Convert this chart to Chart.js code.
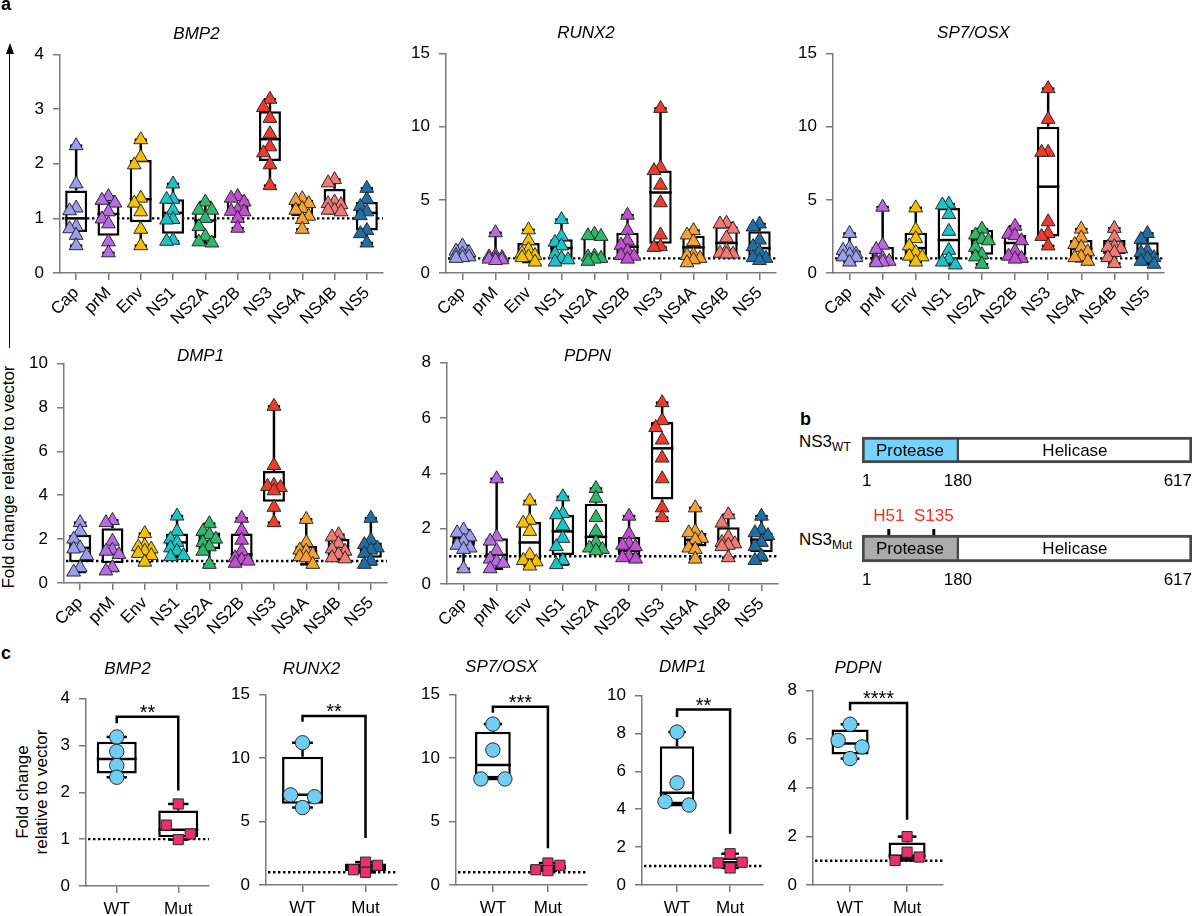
<!DOCTYPE html>
<html><head><meta charset="utf-8">
<script src="https://cdn.jsdelivr.net/npm/chart.js@4.4.1/dist/chart.umd.min.js"></script>
<style>
html,body{margin:0;padding:0;background:#fff;}
#root{position:relative;width:1200px;height:916px;overflow:hidden;font-family:'Liberation Sans',Arial,Helvetica,sans-serif;color:#000;}
canvas{position:absolute;}
.lbl{position:absolute;white-space:nowrap;color:#000;}
.lbl sub{font-size:12px;vertical-align:-4px;line-height:0;}
</style></head>
<body><div id="root">
<div class="lbl" style="left:1px;top:-5px;font-size:18px;line-height:18px;font-weight:bold;">a</div>
<div class="lbl" style="left:800px;top:410px;font-size:18px;line-height:18px;font-weight:bold;">b</div>
<div class="lbl" style="left:1px;top:644px;font-size:18px;line-height:18px;font-weight:bold;">c</div>
<div style="position:absolute;left:8.75px;top:52px;width:1.5px;height:296px;background:#000;"></div>
<div style="position:absolute;left:5.5px;top:43px;width:0;height:0;border-left:4px solid transparent;border-right:4px solid transparent;border-bottom:11px solid #000;"></div>
<div class="lbl" style="left:-111px;top:467px;width:240px;height:20px;line-height:20px;font-size:17px;text-align:center;transform:rotate(-90deg);">Fold change relative to vector</div>
<div class="lbl" style="left:-68px;top:773px;width:200px;height:38px;line-height:19px;font-size:17px;text-align:center;transform:rotate(-90deg);white-space:normal;">Fold change<br>relative to vector</div>
<div class="lbl" style="left:799px;top:432px;font-size:17px;line-height:20px;">NS3<sub>WT</sub></div>
<div class="lbl" style="left:799px;top:530px;font-size:17px;line-height:20px;">NS3<sub>Mut</sub></div>
</div>
<script>
// ---------------- DATA ----------------
const categories = ['Cap','prM','Env','NS1','NS2A','NS2B','NS3','NS4A','NS4B','NS5'];
const categoryColors = ['#9d9cf0','#b66ae4','#f6c200','#19c5c8','#2db86a','#c24fd3','#ef3b2e','#f7a132','#f37a74','#1e6fa8'];
const genes = ['BMP2','RUNX2','SP7/OSX','DMP1','PDPN'];
const yMaxA = [4,15,15,10,8];
const yStepA = [1,5,5,2,2];

// points per category (fold change), panel a
const bmp2Points = [
 [2.33,1.63,1.19,1.14,0.85,0.81,0.69,0.50],
 [1.40,1.33,1.28,1.12,0.99,0.90,0.57,0.37],
 [2.44,2.12,1.98,1.37,1.28,1.12,0.80,0.50],
 [1.63,1.35,1.35,1.15,0.98,0.97,0.60,0.58],
 [1.30,1.15,1.15,1.00,0.85,0.67,0.57,0.55],
 [1.40,1.37,1.30,1.15,1.13,1.12,1.00,0.82],
 [3.18,3.03,2.83,2.55,2.31,2.20,1.98,1.60],
 [1.36,1.33,1.27,1.18,1.15,1.04,0.98,0.80],
 [1.71,1.65,1.30,1.27,1.25,1.15,1.15,1.12],
 [1.55,1.35,1.22,1.12,1.05,0.78,0.72,0.55]];
// [q1, median, q3]
const bmp2Boxes = [[0.75,1.00,1.51],[0.68,1.08,1.31],[0.93,1.35,2.07],[0.72,1.10,1.35],[0.63,0.96,1.14],
 [1.10,1.14,1.36],[2.05,2.45,2.96],[1.04,1.24,1.34],[1.18,1.27,1.54],[0.78,1.10,1.30]];

const runx2Points = [
 [1.85,1.50,1.40,1.30,1.20,1.10,1.05,1.00],
 [2.75,1.20,1.10,1.05,1.00,0.95,0.90,0.85],
 [2.95,2.20,1.60,1.35,1.20,1.10,1.05,0.75],
 [3.65,2.50,2.10,1.85,1.30,1.00,0.90,0.75],
 [2.65,2.55,2.50,1.15,1.10,1.00,0.95,0.80],
 [3.95,2.90,2.20,1.90,1.50,1.20,1.15,0.95],
 [11.25,7.20,7.00,6.00,4.80,2.60,1.80,1.75],
 [2.90,2.60,2.15,1.25,1.20,1.00,0.90,0.70],
 [3.40,3.35,3.00,2.40,1.55,1.35,1.30,1.30],
 [3.35,3.15,2.25,1.80,1.45,1.05,1.00,0.85]];
const runx2Boxes = [[1.05,1.30,1.45],[0.95,1.00,1.15],[1.05,1.35,2.05],[1.00,1.70,2.30],[0.95,1.10,2.50],
 [1.30,1.80,2.75],[2.00,5.50,7.00],[1.00,1.75,2.55],[1.35,2.05,3.20],[1.05,1.70,2.85]];

const sp7Points = [
 [2.70,1.70,1.55,1.30,1.25,1.10,1.05,0.75],
 [4.50,1.90,1.60,1.00,0.85,0.80,0.75,0.70],
 [4.45,2.95,2.35,1.85,1.40,1.15,1.10,0.75],
 [4.70,4.65,4.00,2.85,1.55,0.95,0.75,0.55],
 [3.00,2.60,2.30,2.20,1.75,1.25,1.10,0.60],
 [3.20,2.65,2.55,2.20,1.50,1.15,1.00,0.95],
 [12.60,10.50,8.25,8.25,3.50,2.70,2.50,1.85],
 [3.00,2.40,1.95,1.75,1.45,1.10,1.05,0.80],
 [3.05,2.45,1.80,1.75,1.65,1.40,1.05,0.65],
 [2.70,2.30,1.50,1.40,1.05,1.00,0.80,0.60]];
const sp7Boxes = [[1.05,1.25,1.55],[0.75,1.00,1.80],[1.20,1.70,2.75],[0.90,2.25,4.45],[1.25,2.25,2.95],
 [1.20,2.05,2.60],[2.50,5.90,10.00],[1.10,1.65,2.25],[1.30,1.60,2.25],[0.75,1.30,2.10]];

const dmp1Points = [
 [2.75,2.35,2.00,1.60,1.55,1.25,0.70,0.50],
 [2.85,2.75,1.90,1.50,1.45,1.30,0.70,0.55],
 [2.25,1.70,1.65,1.55,1.45,1.35,1.25,0.95],
 [3.05,2.35,2.00,1.85,1.60,1.45,1.25,1.20],
 [2.70,2.35,2.20,2.00,1.85,1.65,1.45,0.85],
 [2.95,2.40,1.95,1.45,1.15,1.05,1.00,0.90],
 [8.05,5.35,4.45,4.40,4.35,4.20,3.45,2.75],
 [2.90,1.85,1.50,1.45,1.30,1.20,1.15,0.85],
 [2.20,2.10,1.80,1.55,1.45,1.30,1.15,1.10],
 [2.95,1.95,1.75,1.60,1.50,1.35,1.00,0.85]];
const dmp1Boxes = [[0.95,1.60,2.20],[0.90,1.35,2.50],[1.15,1.45,1.62],[1.40,1.85,2.25],[1.55,1.90,2.30],
 [1.00,1.30,2.25],[3.70,4.35,5.10],[1.20,1.40,1.70],[1.20,1.50,2.00],[1.15,1.50,1.85]];

const pdpnPoints = [
 [1.95,1.85,1.70,1.55,1.40,1.30,1.25,0.55],
 [3.80,1.70,1.55,1.20,0.90,0.80,0.75,0.55],
 [3.00,2.30,2.20,1.90,1.05,0.85,0.80,0.65],
 [3.15,2.55,2.50,2.10,1.65,1.35,0.85,0.70],
 [3.45,3.10,2.40,1.90,1.50,1.30,1.25,1.20],
 [2.45,1.80,1.45,1.40,1.35,1.00,0.95,0.90],
 [6.55,5.90,5.65,5.20,4.55,3.80,2.75,2.40],
 [2.75,1.90,1.85,1.65,1.60,1.30,1.25,0.90],
 [2.50,2.20,1.70,1.50,1.45,1.40,1.35,0.95],
 [2.45,1.95,1.85,1.75,1.50,1.35,1.00,0.85]];
const pdpnBoxes = [[1.35,1.50,1.70],[0.80,1.05,1.65],[0.85,1.50,2.25],[1.05,1.90,2.50],[1.25,1.70,2.90],
 [1.05,1.20,1.70],[3.05,4.90,5.85],[1.35,1.60,1.85],[1.40,1.45,2.05],[1.15,1.60,1.85]];

// panel b
const bTicks = [1,180,617];
const bDomains = ['Protease','Helicase'];
const bDomainStart = [1,180];
const bDomainEnd = [180,617];
const bWTColors = ['#74d3fa','#ffffff'];
const bMutColors = ['#ababab','#ffffff'];
const mutPos = [51,135];
const mutLabels = ['H51','S135'];

// panel c
const groupsC = ['WT','Mut'];
const groupColorsC = ['#70cdf3','#ee2f6f'];
const cBmp2 = [[3.18,2.87,2.57,2.32],[1.75,1.30,1.11,0.99]];
const cRunx2 = [[11.2,7.1,6.95,6.1],[1.8,1.55,1.2,1.0]];
const cSp7 = [[12.67,10.63,8.35,8.35],[1.73,1.55,1.2,1.13]];
const cDmp1 = [[8.07,5.39,4.4,4.22],[1.65,1.2,1.16,0.9]];
const cPdpn = [[6.61,5.95,5.68,5.2],[1.99,1.35,1.15,1.01]];
const cBmp2Boxes = [[2.40,2.71,3.08],[1.04,1.20,1.61]];
const cRunx2Boxes = [[6.4,7.1,10.1],[1.1,1.4,1.7]];
const cSp7Boxes = [[8.4,9.45,12.07],[1.15,1.35,1.6]];
const cDmp1Boxes = [[4.27,4.87,7.32],[1.0,1.2,1.45]];
const cPdpnBoxes = [[5.37,5.82,6.4],[1.05,1.2,1.75]];
// bracket: [WT leg end, top, Mut leg end]
const cBrackets = [[3.47,3.61,2.04],[12.85,13.3,3.7],[13.56,14.03,2.9],[8.86,9.26,2.7],[7.18,7.49,2.68]];
const cStars = ['**','**','***','**','****'];
const referenceLevel = 1;

// ---------------- RENDERING ----------------
const FONT = "'Liberation Sans', Arial, Helvetica, sans-serif";
Chart.defaults.font.family = FONT;
Chart.defaults.font.size = 17;
Chart.defaults.color = '#000';
Chart.defaults.animation = false;
Chart.defaults.events = [];
Chart.defaults.plugins.legend.display = false;
Chart.defaults.plugins.tooltip.enabled = false;
const root = document.getElementById('root');
const AXIS = '#7a7a7a';

function makeCanvas(left, top, w, h) {
  const c = document.createElement('canvas');
  c.width = w; c.height = h;
  c.style.left = left + 'px'; c.style.top = top + 'px';
  c.style.width = w + 'px'; c.style.height = h + 'px';
  root.appendChild(c);
  return c;
}

function swarmOffsets(vals, pxPerUnit, s, vgap, symm) {
  const order = vals.map((v, i) => i).sort((a, b) => vals[b] - vals[a]);
  const cands = symm ? [0, s, -s] : [0, -s, s];
  const placed = [];
  const col = new Array(vals.length).fill(0);
  for (const i of order) {
    const py = vals[i] * pxPerUnit;
    let best = 0, bestD = -1;
    for (const c of cands) {
      let d = Infinity;
      for (const p of placed) if (p.c === c) d = Math.min(d, Math.abs(p.py - py));
      if (d >= vgap) { best = c; break; }
      if (d > bestD) { bestD = d; best = c; }
    }
    col[i] = best; placed.push({ i, c: best, py });
  }
  if (symm) {
    const off = col.slice();
    placed.forEach(p => {
      if (p.c !== s) return;
      const partner = placed.find(q => q.c === 0 && Math.abs(q.py - p.py) < vgap);
      const other = placed.find(q => q.c === -s && Math.abs(q.py - p.py) < vgap * 1.5);
      if (partner && !other) { off[partner.i] = -s; }
    });
    return off;
  }
  return col;
}

const boxExtras = {
  id: 'boxExtras',
  beforeDatasetsDraw(chart, args, o) {
    const { ctx, chartArea: a, scales: { x, y } } = chart;
    ctx.save();
    const py = y.getPixelForValue(o.ref);
    ctx.setLineDash([2.4, 2.6]);
    ctx.lineWidth = 2.4; ctx.strokeStyle = '#000';
    ctx.beginPath(); ctx.moveTo(a.left + 2, py); ctx.lineTo(a.right, py); ctx.stroke();
    ctx.setLineDash([]);
    ctx.lineWidth = o.lw; ctx.lineCap = 'butt';
    const line = (x1, y1, x2, y2) => { ctx.beginPath(); ctx.moveTo(x1, y1); ctx.lineTo(x2, y2); ctx.stroke(); };
    o.boxes.forEach((b, i) => {
      const pts = o.points[i];
      const lo = Math.min(...pts), hi = Math.max(...pts);
      const cx = x.getPixelForValue(i);
      const cw = x.getPixelForValue(i + o.capW / 2) - cx;
      const yq1 = y.getPixelForValue(b[0]), yq3 = y.getPixelForValue(b[2]);
      const ylo = y.getPixelForValue(lo), yhi = y.getPixelForValue(hi);
      line(cx, yq3, cx, yhi); line(cx - cw, yhi, cx + cw, yhi);
      line(cx, yq1, cx, ylo); line(cx - cw, ylo, cx + cw, ylo);
    });
    ctx.restore();
  },
  afterDatasetDraw(chart, args, o) {
    if (args.meta.type !== 'bar') return;
    const { ctx, scales: { x, y } } = chart;
    ctx.save();
    ctx.lineWidth = o.lw; ctx.strokeStyle = '#000'; ctx.lineCap = 'butt';
    o.boxes.forEach((b, i) => {
      const cx = x.getPixelForValue(i);
      const hw = x.getPixelForValue(i + o.boxW / 2) - cx;
      const ym = y.getPixelForValue(b[1]);
      ctx.beginPath(); ctx.moveTo(cx - hw, ym); ctx.lineTo(cx + hw, ym); ctx.stroke();
    });
    ctx.restore();
  },
  afterDatasetsDraw(chart, args, o) {
    if (!o.bracket) return;
    const { ctx, scales: { x, y } } = chart;
    const b = o.bracket;
    const x0 = x.getPixelForValue(0), x1 = x.getPixelForValue(1);
    ctx.save();
    ctx.lineWidth = 2.5; ctx.strokeStyle = '#000'; ctx.lineJoin = 'miter';
    ctx.beginPath();
    ctx.moveTo(x0, y.getPixelForValue(b[0]));
    ctx.lineTo(x0, y.getPixelForValue(b[1]));
    ctx.lineTo(x1, y.getPixelForValue(b[1]));
    ctx.lineTo(x1, y.getPixelForValue(b[2]));
    ctx.stroke();
    ctx.fillStyle = '#000'; ctx.font = '20px ' + FONT;
    ctx.textAlign = 'center'; ctx.textBaseline = 'alphabetic';
    ctx.fillText(o.stars, (x0 + x1) / 2, y.getPixelForValue(b[1]) + 2);
    ctx.restore();
  }
};

function boxChart(g, title, cats, colors, shapes, pts, boxes, conf) {
  const YW = conf.yw, XH = conf.xh;
  const padB = g.gap - 8.5, padT = 6;
  const TH = padT + padB + 17;
  const left = g.x0 - YW, top = g.yT - TH;
  const w = (g.x1 - g.x0) + 2 * YW, h = TH + (g.yB - g.yT) + XH;
  const cv = makeCanvas(left, top, w, h);
  const pxPerCat = (g.x1 - g.x0) / (g.xmax - g.xmin);
  const pxPerUnit = (g.yB - g.yT) / g.max;
  const datasets = [{
    type: 'bar', order: 2,
    data: boxes.map((b, i) => ({ x: i, y: [b[0], b[2]] })),
    backgroundColor: '#ffffff', borderColor: '#000', borderWidth: conf.lw,
    borderSkipped: false, categoryPercentage: 1, barPercentage: conf.boxW, grouped: false
  }];
  cats.forEach((c, i) => {
    const off = swarmOffsets(pts[i], pxPerUnit, conf.s, conf.vgap, conf.symm);
    datasets.push({
      type: 'scatter', label: c, order: 1, clip: false,
      data: pts[i].map((v, k) => ({ x: i + off[k] / pxPerCat, y: v })),
      pointStyle: shapes[i], pointRadius: conf.r, pointBackgroundColor: colors[i],
      pointBorderColor: '#2a2a2a', pointBorderWidth: 1
    });
  });
  const tickFont = { size: 17, family: FONT };
  return new Chart(cv, {
    type: 'bar',
    data: { datasets },
    plugins: [boxExtras],
    options: {
      responsive: false, maintainAspectRatio: false,
      layout: { padding: { left: 0, right: YW, top: 0, bottom: 0 } },
      plugins: {
        title: { display: true, text: title, font: { size: 17, style: 'italic', weight: 'normal', family: FONT, lineHeight: 1 }, color: '#000', padding: { top: padT, bottom: padB } },
        boxExtras: { boxes, points: pts, ref: referenceLevel, boxW: conf.boxW, capW: conf.capW, lw: conf.lw, bracket: conf.bracket, stars: conf.stars }
      },
      scales: {
        x: {
          type: 'linear', min: g.xmin, max: g.xmax, offset: false,
          afterBuildTicks: s => { s.ticks = cats.map((_, i) => ({ value: i })); },
          afterFit: s => { s.height = XH; },
          ticks: { autoSkip: false, minRotation: conf.rot, maxRotation: conf.rot, padding: conf.xpad, font: tickFont, color: '#000', callback: v => cats[v] },
          grid: { display: true, drawOnChartArea: false, drawTicks: true, tickLength: 7, color: AXIS, lineWidth: 1.5, offset: false },
          border: { display: true, color: AXIS, width: 1.5 }
        },
        y: {
          type: 'linear', min: 0, max: g.max,
          afterFit: s => { s.width = YW; },
          ticks: { stepSize: g.step, padding: 9, font: tickFont, color: '#000' },
          grid: { display: true, drawOnChartArea: false, drawTicks: true, tickLength: 7, color: AXIS, lineWidth: 1.5 },
          border: { display: true, color: AXIS, width: 1.5 }
        }
      }
    }
  });
}

// ---- panel a ----
const triShapes = categories.map(() => 'triangle');
const confA = { yw: 50, xh: 70, s: 6.5, vgap: 8.5, symm: false, r: 8, boxW: 0.68, capW: 0.38, lw: 2.5, rot: 45, xpad: 3 };
const geoA = [
  { x0: 60, x1: 383, yT: 54, yB: 273, gap: 20 },
  { x0: 446, x1: 776, yT: 53, yB: 273, gap: 20 },
  { x0: 833, x1: 1164, yT: 53, yB: 273, gap: 20 },
  { x0: 64, x1: 387, yT: 363, yB: 583, gap: 7 },
  { x0: 447, x1: 778, yT: 362, yB: 584, gap: 6 }
];
const ptsA = [bmp2Points, runx2Points, sp7Points, dmp1Points, pdpnPoints];
const boxesA = [bmp2Boxes, runx2Boxes, sp7Boxes, dmp1Boxes, pdpnBoxes];
genes.forEach((gname, k) => {
  const g = Object.assign({ xmin: -0.5, xmax: categories.length - 0.5, max: yMaxA[k], step: yStepA[k] }, geoA[k]);
  boxChart(g, gname, categories, categoryColors, triShapes, ptsA[k], boxesA[k], confA);
});

// ---- panel c ----
const geoC = [
  { x0: 86, x1: 209, yT: 698, yB: 886, gap: 29, xmin: -0.5, xmax: 1.5 },
  { x0: 266, x1: 397, yT: 694, yB: 885, gap: 25, xmin: -0.58, xmax: 1.5 },
  { x0: 456, x1: 587, yT: 694, yB: 885, gap: 27, xmin: -0.67, xmax: 1.71 },
  { x0: 642, x1: 763, yT: 695, yB: 885, gap: 28, xmin: -0.66, xmax: 1.62 },
  { x0: 813, x1: 943, yT: 690, yB: 885, gap: 22, xmin: -0.65, xmax: 1.63 }
];
const ptsC = [cBmp2, cRunx2, cSp7, cDmp1, cPdpn];
const boxesC = [cBmp2Boxes, cRunx2Boxes, cSp7Boxes, cDmp1Boxes, cPdpnBoxes];
genes.forEach((gname, k) => {
  const g = Object.assign({ max: yMaxA[k], step: yStepA[k] }, geoC[k]);
  const conf = { yw: 40, xh: 40, s: 12, vgap: 11, symm: true, r: 7.2, boxW: 0.65, capW: 0.33, lw: 2.5, rot: 0, xpad: 6, bracket: cBrackets[k], stars: cStars[k] };
  boxChart(g, gname, groupsC, groupColorsC, ['circle', 'rect'], ptsC[k], boxesC[k], conf);
});

// ---- panel b ----
const domainPlugin = {
  id: 'domainPlugin',
  afterDatasetsDraw(chart, args, o) {
    const { ctx, scales: { x } } = chart;
    ctx.save();
    ctx.font = '17px ' + FONT; ctx.fillStyle = '#000'; ctx.textAlign = 'center'; ctx.textBaseline = 'middle';
    let barTop = 0;
    chart.data.datasets.forEach((ds, i) => {
      const el = chart.getDatasetMeta(i).data[0];
      ctx.fillText(ds.label, (el.x + el.base) / 2, el.y + 1);
      barTop = el.y - el.height / 2;
    });
    if (o.mutations) {
      o.mutations.pos.forEach((p, i) => {
        const px = x.getPixelForValue(p);
        ctx.fillStyle = '#000';
        ctx.fillRect(px - 1.5, barTop - 6, 3, 6);
        ctx.fillStyle = '#f0321e';
        ctx.fillText(o.mutations.labels[i], px, barTop - 19);
      });
    }
    ctx.restore();
  }
};
function domainChart(top, padTop, areaH, thickness, fills, mutations) {
  const cv = makeCanvas(858, top, 338, padTop + areaH + 28);
  return new Chart(cv, {
    type: 'bar',
    data: {
      labels: ['NS3'],
      datasets: bDomains.map((d, i) => ({
        label: d, data: [[bDomainStart[i], bDomainEnd[i]]],
        backgroundColor: fills[i], borderColor: '#474747',
        borderWidth: i === 0 ? { top: 3, bottom: 3, left: 3, right: 1.5 } : { top: 3, bottom: 3, left: 1.5, right: 3 },
        borderSkipped: false, barThickness: thickness, grouped: false
      }))
    },
    plugins: [domainPlugin],
    options: {
      responsive: false, maintainAspectRatio: false, indexAxis: 'y',
      layout: { padding: { left: 4, right: 4, top: padTop, bottom: 0 } },
      plugins: { domainPlugin: { mutations } },
      scales: {
        x: {
          type: 'linear', min: bTicks[0], max: bTicks[bTicks.length - 1],
          afterBuildTicks: s => { s.ticks = bTicks.map(v => ({ value: v })); },
          afterFit: s => { s.height = 28; },
          ticks: { align: 'inner', padding: 1, font: { size: 17, family: FONT }, color: '#000', autoSkip: false, maxRotation: 0 },
          grid: { display: false, drawTicks: false }, border: { display: false }
        },
        y: { display: false }
      }
    }
  });
}
domainChart(425, 5, 40, 26, bWTColors, null);
domainChart(500, 28, 41, 27, bMutColors, { pos: mutPos, labels: mutLabels });
</script>
</body></html>
